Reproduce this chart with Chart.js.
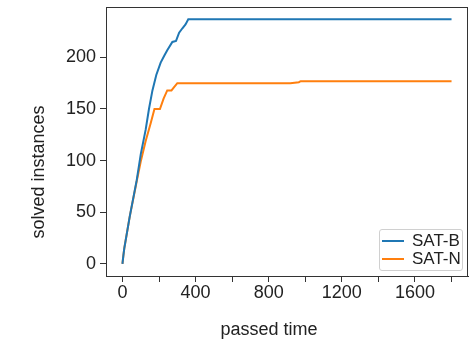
<!DOCTYPE html>
<html>
<head>
<meta charset="utf-8">
<script src="https://cdn.jsdelivr.net/npm/chart.js@4"></script>
<style>
  html, body { margin: 0; padding: 0; background: #fff; }
  #wrap { position: relative; width: 474px; height: 358px; }
  canvas { display: block; }
  #legend {
    position: absolute; left: 379px; top: 229px; width: 84px; height: 42px;
    border: 1px solid #d0d0d0; border-radius: 3px; background: rgba(255,255,255,0.85);
    font-family: "Liberation Sans", Arial, sans-serif; font-size: 17px; color: #222;
    box-sizing: border-box; padding: 2px 0 0 2px;
  }
  #legend .item { display: flex; align-items: center; height: 18px; }
  #legend .swatch { width: 22px; height: 2px; margin-right: 8px; }
</style>
</head>
<body>
<div id="wrap">
  <canvas id="c" width="474" height="358"></canvas>
  <div id="legend"></div>
</div>
<script>
// ---- data ----
const seriesNames = ["SAT-B", "SAT-N"];
const blueTime   = [0, 5, 10, 40, 78, 100, 127, 145, 164, 185, 209, 230, 245, 273, 293, 310, 327, 345, 360, 1800];
const blueSolved = [0, 8, 15, 46, 81, 106, 130, 150, 168, 183, 195, 202, 207, 215, 216, 224, 228, 232, 237, 237];
const orangeTime   = [0, 5, 10, 40, 78, 100, 127, 154, 175, 205, 225, 245, 268, 300, 918, 965, 975, 1800];
const orangeSolved = [0, 8, 15, 46, 80, 99, 119, 136, 150, 150, 160, 168, 168, 175, 175, 176, 177, 177];
const xTickMarks  = [0, 200, 400, 600, 800, 1000, 1200, 1400, 1600, 1800];
const xTickLabels = [0, 400, 800, 1200, 1600];
const yTickMarks  = [0, 50, 100, 150, 200];
const yTickLabels = [0, 50, 100, 150, 200];
const xTitle = "passed time";
const yTitle = "solved instances";

const colors = ["#1f77b4", "#ff7f0e"];
const FONT = '"Liberation Sans", Arial, sans-serif';
const TEXT = '#222';

function toPoints(xs, ys) { return xs.map((x, i) => ({ x: x, y: ys[i] })); }

const frame = {
  id: 'frame',
  afterDraw(chart) {
    const { ctx, chartArea: a } = chart;
    ctx.save();
    ctx.strokeStyle = '#333';
    ctx.lineWidth = 1;
    ctx.strokeRect(Math.round(a.left) + 0.5, Math.round(a.top) + 0.5,
                   Math.round(a.right - a.left) - 1, Math.round(a.bottom - a.top));
    ctx.fillStyle = TEXT;
    ctx.font = '18px ' + FONT;
    ctx.textAlign = 'center';
    ctx.textBaseline = 'middle';
    ctx.fillText(xTitle, 269, 330);
    ctx.translate(39, 172);
    ctx.rotate(-Math.PI / 2);
    ctx.fillText(yTitle, 0, 0);
    ctx.restore();
  }
};

const chart = new Chart(document.getElementById('c'), {
  type: 'line',
  data: {
    datasets: [
      { label: seriesNames[0], data: toPoints(blueTime, blueSolved), borderColor: colors[0], backgroundColor: colors[0], borderWidth: 2, pointRadius: 0, tension: 0, fill: false },
      { label: seriesNames[1], data: toPoints(orangeTime, orangeSolved), borderColor: colors[1], backgroundColor: colors[1], borderWidth: 2, pointRadius: 0, tension: 0, fill: false }
    ]
  },
  options: {
    responsive: false,
    animation: false,
    devicePixelRatio: 1,
    layout: { padding: { left: 0, right: 6, top: 7, bottom: 0 } },
    plugins: { legend: { display: false }, tooltip: { enabled: false } },
    scales: {
      x: {
        type: 'linear', min: -90, max: 1890,
        afterBuildTicks(s) { s.ticks = xTickMarks.map(v => ({ value: v })); },
        afterFit(s) { s.height = 82; s.paddingLeft = 0; s.paddingRight = 0; },
        grid: { drawOnChartArea: false, tickLength: 6, color: '#333', tickColor: '#333' },
        border: { display: true, color: '#333' },
        ticks: {
          autoSkip: false, maxRotation: 0, padding: 0,
          color: TEXT, font: { family: FONT, size: 18 },
          callback: (v) => xTickLabels.includes(v) ? String(v) : ''
        }
      },
      y: {
        type: 'linear', min: -11.85, max: 248.85,
        afterBuildTicks(s) { s.ticks = yTickMarks.map(v => ({ value: v })); },
        afterFit(s) { s.width = 106; s.paddingTop = 0; s.paddingBottom = 0; },
        grid: { drawOnChartArea: false, tickLength: 6, color: '#333', tickColor: '#333' },
        border: { display: true, color: '#333' },
        ticks: {
          autoSkip: false, padding: 4,
          color: TEXT, font: { family: FONT, size: 18 },
          callback: (v) => yTickLabels.includes(v) ? String(v) : ''
        }
      }
    }
  },
  plugins: [frame]
});

const leg = document.getElementById('legend');
chart.data.datasets.forEach((d) => {
  const it = document.createElement('div');
  it.className = 'item';
  const sw = document.createElement('span');
  sw.className = 'swatch';
  sw.style.background = d.borderColor;
  const tx = document.createElement('span');
  tx.textContent = d.label;
  it.appendChild(sw); it.appendChild(tx);
  leg.appendChild(it);
});
</script>
</body>
</html>
